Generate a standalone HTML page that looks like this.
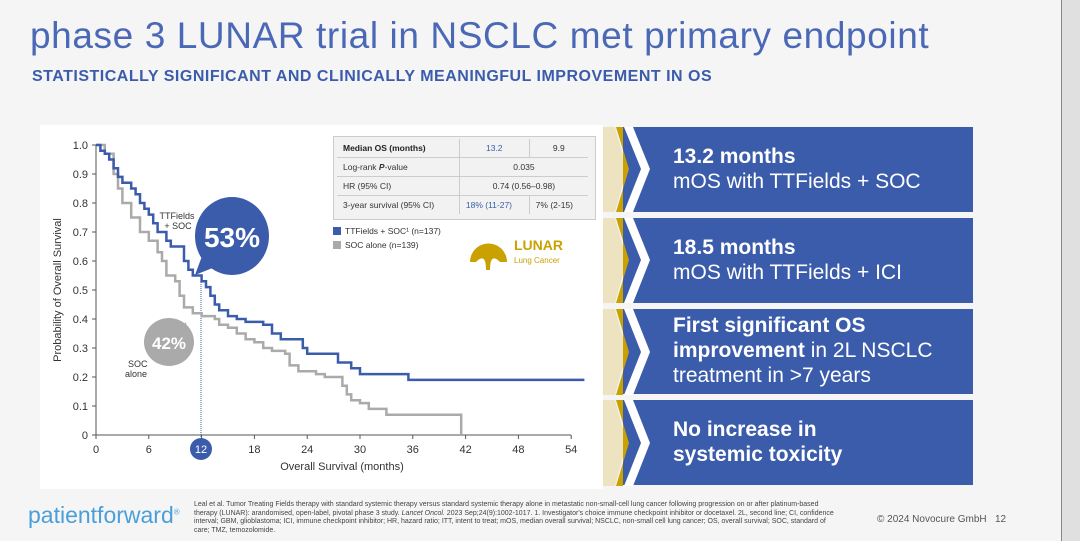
<!DOCTYPE html><html><head><meta charset="utf-8"><style>
body{margin:0;width:1080px;height:541px;background:#f5f5f5;font-family:"Liberation Sans",sans-serif;position:relative;overflow:hidden}
.abs{position:absolute}
.box{position:absolute;left:623px;width:350px;height:85px;background:#3b5bab;color:#fff;font-size:21px;line-height:25px}
.box div{position:absolute;left:50px}
table{border-collapse:collapse;font-size:8.5px;color:#333}
td{border-bottom:1px solid #ccc;height:18px;padding:0 6px}
</style></head><body>
<div class="abs" style="left:1061px;top:0;width:19px;height:541px;background:#e0e0e0;border-left:1px solid #888"></div>
<div class="abs" style="left:30px;top:15px;font-size:37px;color:#4a68b5;font-weight:300;letter-spacing:0.6px">phase 3 LUNAR trial in NSCLC met primary endpoint</div>
<div class="abs" style="left:32px;top:68px;font-size:16px;color:#3b5bab;font-weight:bold;letter-spacing:0.5px">STATISTICALLY SIGNIFICANT AND CLINICALLY MEANINGFUL IMPROVEMENT IN OS</div>
<div class="abs" style="left:40px;top:125px;width:563px;height:364px;background:#fff"></div>
<svg class="abs" style="left:0;top:0" width="1080" height="541" id="s">
<g font-size="11" fill="#333" text-anchor="end" id="yt"></g>
<g font-size="11" fill="#333" text-anchor="middle" id="xt"></g>
<line x1="96" y1="145" x2="96" y2="435" stroke="#555"/>
<line x1="96" y1="435" x2="571" y2="435" stroke="#555"/>
<line x1="201" y1="280" x2="201" y2="440" stroke="#3b5bab" stroke-dasharray="1,1"/>
<path id="g" fill="none" stroke="#aaa" stroke-width="2.5"/>
<path id="b" fill="none" stroke="#3b5bab" stroke-width="2.5"/>
<circle cx="201" cy="449" r="11" fill="#3b5bab"/>
<text x="201" y="453" fill="#fff" font-size="11" text-anchor="middle">12</text>
<text x="342" y="470" font-size="11" fill="#333" text-anchor="middle">Overall Survival (months)</text>
<text transform="translate(61,290) rotate(-90)" font-size="11" fill="#333" text-anchor="middle">Probability of Overall Survival</text>
<ellipse cx="232" cy="236" rx="37" ry="39" fill="#3b5bab"/>
<path d="M205 248 L195 275 L220 265Z" fill="#3b5bab"/>
<text x="232" y="247" fill="#fff" font-size="28" font-weight="bold" text-anchor="middle">53%</text>
<text x="177" y="219" font-size="9" fill="#333" text-anchor="middle">TTFields</text>
<text x="178" y="229" font-size="9" fill="#333" text-anchor="middle">+ SOC</text>
<ellipse cx="169" cy="342" rx="25" ry="24" fill="#aaa"/>
<path d="M180 330 L186 322 L188 340Z" fill="#aaa"/>
<text x="169" y="349" fill="#fff" font-size="17" font-weight="bold" text-anchor="middle">42%</text>
<text x="128" y="367" font-size="9" fill="#333">SOC</text>
<text x="125" y="377" font-size="9" fill="#333">alone</text>
<rect x="333" y="227" width="8" height="8" fill="#3b5bab"/><text x="345" y="234" font-size="8.5" fill="#333">TTFields + SOC¹ (n=137)</text>
<rect x="333" y="241" width="8" height="8" fill="#aaa"/><text x="345" y="248" font-size="8.5" fill="#333">SOC alone (n=139)</text>
<path d="M470 262 A18 18 0 0 1 507 262 L500 262 Q490 252 490 270 L488 270 L486 270 Q486 252 476 262Z" fill="#c9a100"/>
<text x="514" y="250" font-size="14" font-weight="bold" fill="#c9a100">LUNAR</text>
<text x="514" y="263" font-size="8" fill="#c9a100">Lung Cancer</text>
<polygon points="603,127 615,127 627,169 615,212 603,212" fill="#eee3c0"/>
<polygon points="603,218 615,218 627,260 615,303 603,303" fill="#eee3c0"/>
<polygon points="603,309 615,309 627,352 615,395 603,395" fill="#eee3c0"/>
<polygon points="603,400 615,400 627,443 615,486 603,486" fill="#eee3c0"/>
</svg>
<div class="abs" style="left:333px;top:136px;width:255px;height:78px;background:#f2f2f2;border:1px solid #ccc;padding:2px 3px">
<table style="width:251px"><tr><td style="font-weight:bold;color:#222">Median OS (months)</td><td style="color:#3b5bab;text-align:center;border-left:1px solid #ccc">13.2</td><td style="text-align:center;border-left:1px solid #ccc">9.9</td></tr>
<tr><td>Log-rank <b><i>P</i></b>-value</td><td colspan="2" style="text-align:center;border-left:1px solid #ccc">0.035</td></tr>
<tr><td>HR (95% CI)</td><td colspan="2" style="text-align:center;border-left:1px solid #ccc">0.74 (0.56–0.98)</td></tr>
<tr><td style="border:0">3-year survival (95% CI)</td><td style="color:#3b5bab;border:0;border-left:1px solid #ccc">18% (11-27)</td><td style="border:0;border-left:1px solid #ccc">7% (2-15)</td></tr></table></div>
<div class="box" style="top:127px"><div style="top:17px"><b>13.2 months</b><br>mOS with TTFields + SOC</div></div>
<div class="box" style="top:218px"><div style="top:17px"><b>18.5 months</b><br>mOS with TTFields + ICI</div></div>
<div class="box" style="top:309px"><div style="top:4px"><b>First significant OS<br>improvement</b> in 2L NSCLC<br>treatment in &gt;7 years</div></div>
<div class="box" style="top:400px"><div style="top:17px"><b>No increase in<br>systemic toxicity</b></div></div>
<svg class="abs" style="left:0;top:0" width="1080" height="541">
<polygon points="616,127 629,169 616,212 623,212 623,127" fill="#c9a100"/>
<polygon points="616,218 629,260 616,303 623,303 623,218" fill="#c9a100"/>
<polygon points="616,309 629,352 616,395 623,395 623,309" fill="#c9a100"/>
<polygon points="616,400 629,443 616,486 623,486 623,400" fill="#c9a100"/>
<polygon points="624,127 641,169 624,212 633,212 650,169 633,127" fill="#fff"/>
<polygon points="624,218 641,260 624,303 633,303 650,260 633,218" fill="#fff"/>
<polygon points="624,309 641,352 624,395 633,395 650,352 633,309" fill="#fff"/>
<polygon points="624,400 641,443 624,486 633,486 650,443 633,400" fill="#fff"/>
</svg>
<div class="abs" style="left:28px;top:502px;font-size:23px;color:#4a9fd8;font-weight:300">patientforward<sup style="font-size:8px">®</sup></div>
<div class="abs" style="left:194px;top:501px;width:640px;font-size:7px;line-height:8.5px;color:#444">Leal et al. Tumor Treating Fields therapy with standard systemic therapy versus standard systemic therapy alone in metastatic non-small-cell lung cancer following progression on or after platinum-based therapy (LUNAR): arandomised, open-label, pivotal phase 3 study. <i>Lancet Oncol.</i> 2023 Sep;24(9):1002-1017. 1. Investigator's choice immune checkpoint inhibitor or docetaxel. 2L, second line; CI, confidence interval; GBM, glioblastoma; ICI, immune checkpoint inhibitor; HR, hazard ratio; ITT, intent to treat; mOS, median overall survival; NSCLC, non-small cell lung cancer; OS, overall survival; SOC, standard of care; TMZ, temozolomide.</div>
<div class="abs" style="left:877px;top:514px;font-size:10px;color:#555">© 2024 Novocure GmbH &nbsp; 12</div>
<script>
var X=m=>96+m*8.8,Y=p=>435-p*290;
function st(a){var d="M"+X(a[0][0])+" "+Y(a[0][1]);for(var i=1;i<a.length;i++){d+=" H"+X(a[i][0])+" V"+Y(a[i][1]);}return d;}
var b=[[0,1],[.5,.98],[1,.97],[1.5,.95],[2,.92],[2.5,.89],[3,.87],[4,.85],[4.5,.83],[5,.8],[5.5,.78],[6,.76],[6.5,.73],[7,.7],[8,.67],[8.5,.65],[9.5,.65],[10,.6],[10.5,.57],[11,.55],[12,.53],[12.5,.51],[13,.48],[13.5,.45],[14,.43],[15,.41],[16,.4],[17,.39],[19,.38],[20,.35],[21,.33],[23,.33],[23.5,.3],[24,.28],[27,.28],[27.5,.25],[29,.23],[30,.21],[35,.21],[35.5,.19],[55.5,.19]];
var g=[[0,1],[1,.97],[2,.9],[2.5,.85],[3,.8],[4,.75],[5,.7],[6,.67],[7,.63],[7.5,.6],[8,.55],[9,.53],[9.5,.48],[10,.44],[11,.42],[12,.41],[13.5,.4],[14,.38],[15,.37],[16,.35],[17,.33],[18,.32],[19,.3],[20,.29],[21.5,.28],[22,.24],[23,.22],[25,.21],[26,.2],[28,.17],[28.5,.14],[29,.12],[30,.11],[31,.09],[33,.07],[41.5,.07],[41.5,0]];
document.getElementById("b").setAttribute("d",st(b));document.getElementById("g").setAttribute("d",st(g));
var yt="",xt="";for(var i=0;i<=10;i++){var y=Y(i/10);yt+='<text x="88" y="'+(y+4)+'">'+(i==0?"0":i==10?"1.0":(i/10).toFixed(1))+'</text><line x1="92" x2="96" y1="'+y+'" y2="'+y+'" stroke="#555"/>';}
for(var m=0;m<=54;m+=6){var x=X(m);if(m!=12)xt+='<text x="'+x+'" y="453">'+m+'</text>';xt+='<line x1="'+x+'" x2="'+x+'" y1="435" y2="439" stroke="#555"/>';}
document.getElementById("yt").innerHTML=yt;document.getElementById("xt").innerHTML=xt;
</script>
</body></html>
